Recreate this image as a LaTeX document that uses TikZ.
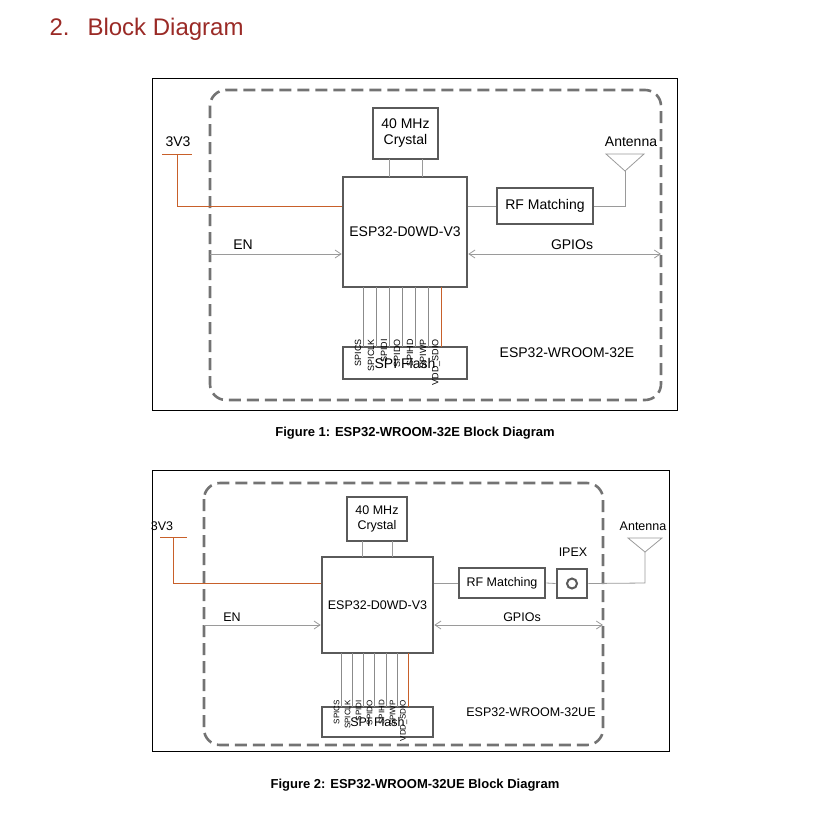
\documentclass[tikz,border=0pt]{standalone}
\usepackage{fontspec}
\setmainfont{Liberation Sans}
\usetikzlibrary{arrows.meta}
\definecolor{org}{HTML}{C8602A}
\definecolor{boxc}{HTML}{5A5A5A}
\definecolor{thin}{HTML}{9A9A9A}
\definecolor{ttl}{HTML}{9A2A26}
\begin{document}
\begin{tikzpicture}[x=1pt,y=-1pt,
  blk/.style={draw=boxc,line width=2.6pt,fill=white,inner sep=0pt,align=center},
  tl/.style={draw=thin,line width=0.8pt},
  ol/.style={draw=org,line width=0.9pt},
  arr/.style={tl,-{Straight Barb[length=6pt,width=8pt]}},
  darr/.style={tl,{Straight Barb[length=6pt,width=8pt]}-{Straight Barb[length=6pt,width=8pt]}},
  modbox/.style={draw=boxc!85,line width=2.6pt,dash pattern=on 12pt off 6pt,rounded corners=16pt},
  frm/.style={draw=black,line width=0.8pt},
  sp/.style={rotate=90,anchor=east,inner sep=1pt}]
\useasboundingbox (0,0) rectangle (821,820);
\node[anchor=west,text=ttl,font=\fontsize{24}{28}\selectfont] (title) at (46,29) {2.\hspace{18pt}Block Diagram};

% ===== Figure 1 =====
\draw[frm] (152,78) rectangle (677,410);
\draw[modbox] (210,90) rectangle (661,400);
\begin{scope}[font=\fontsize{14}{16}\selectfont]
\node[blk,minimum width=65pt,minimum height=51pt] (xa) at (405.5,133.5) {40 MHz\\Crystal};
\node[blk,minimum width=124pt,minimum height=110pt] (ca) at (405,232) {ESP32-D0WD-V3};
\node[blk,minimum width=96pt,minimum height=36pt] (ra) at (545,206) {RF Matching};
\node[blk,minimum width=124pt,minimum height=32pt] (fa) at (405,363) {SPI Flash};
\node (va) at (178,142) {3V3};
\node (ana) at (631,142) {Antenna};
\node (ena) at (243,245) {EN};
\node (ga) at (572,245) {GPIOs};
\node (ma) at (567,353) {ESP32-WROOM-32E};
\end{scope}
\draw[tl] (389,159) -- (389,177);
\draw[tl] (422,159) -- (422,177);
\draw[tl] (ca.east|-ra) -- (ra.west);
\coordinate (apa) at (625,171);
\draw[tl] (606,154) -- (644,154) -- (apa) -- cycle;
\draw[tl] (apa) -- (625,206) -- (ra.east);
\draw[ol] (162,154) -- (192,154);
\draw[ol] (177,154) -- (177,206) -- (ca.west|-0,206);
\draw[arr] (210,254) -- (ca.west|-0,254);
\draw[darr] (ca.east|-0,254) -- (661,254);
\foreach \x/\t in {363/SPICS,376/SPICLK,389/SPIDI,402/SPIDO,415/SPIHD,428/SPIWP,441/VDD\_SDIO}{
  \node[sp,font=\fontsize{9}{10}\selectfont] at (\x-5,338) {\t};}
\foreach \x in {363,376,389,402,415,428}{\draw[tl,draw=boxc!70] (\x,287) -- (\x,347);}
\draw[ol] (441,287) -- (441,347);
\node[font=\bfseries\fontsize{13}{15}\selectfont] (cap1) at (415,433) {Figure 1: ESP32-WROOM-32E Block Diagram};

% ===== Figure 2 =====
\draw[frm] (152,470) rectangle (669,751);
\draw[modbox] (204,483) rectangle (603,745);
\begin{scope}[font=\fontsize{12.5}{14.5}\selectfont]
\node[blk,minimum width=60pt,minimum height=44pt] (xb) at (377,519) {40 MHz\\Crystal};
\node[blk,minimum width=111pt,minimum height=96pt] (cb) at (377.5,605) {ESP32-D0WD-V3};
\node[blk,minimum width=86pt,minimum height=30pt] (rb) at (502,583) {RF Matching};
\node[blk,minimum width=30pt,minimum height=29pt] (ib) at (572,583.5) {};
\node[blk,minimum width=111pt,minimum height=30pt] (fb) at (377.5,722) {SPI Flash};
\node (vb) at (162,526) {3V3};
\node (anb) at (643,526) {Antenna};
\node (ipb) at (573,552) {IPEX};
\node (enb) at (232,617) {EN};
\node (gb) at (522,617) {GPIOs};
\node (mb) at (531,712) {ESP32-WROOM-32UE};
\end{scope}
\draw[boxc,line width=2pt] (ib.center) circle (5pt);
\draw[tl] (362,541) -- (362,557);
\draw[tl] (392,541) -- (392,557);
\draw[tl] (cb.east|-rb) -- (rb.west);
\draw[tl] (rb.east) -- (ib.west);
\coordinate (apb) at (645,552);
\draw[tl] (628,538) -- (662,538) -- (apb) -- cycle;
\draw[tl] (apb) -- (645,583) -- (ib.east);
\draw[ol] (160,537) -- (187,537);
\draw[ol] (173,537) -- (173,583) -- (cb.west|-0,583);
\draw[arr] (204,625) -- (cb.west|-0,625);
\draw[darr] (cb.east|-0,625) -- (603,625);
\foreach \x/\t in {341/SPICS,352/SPICLK,363/SPIDI,374/SPIDO,386/SPIHD,397/SPIWP,408/VDD\_SDIO}{
  \node[sp,font=\fontsize{8}{9}\selectfont] at (\x-4.5,699) {\t};}
\foreach \x in {341,352,363,374,386,397}{\draw[tl,draw=boxc!70] (\x,653) -- (\x,707);}
\draw[ol] (408,653) -- (408,707);
\node[font=\bfseries\fontsize{13}{15}\selectfont] (cap2) at (415,785) {Figure 2: ESP32-WROOM-32UE Block Diagram};
\end{tikzpicture}
\end{document}
